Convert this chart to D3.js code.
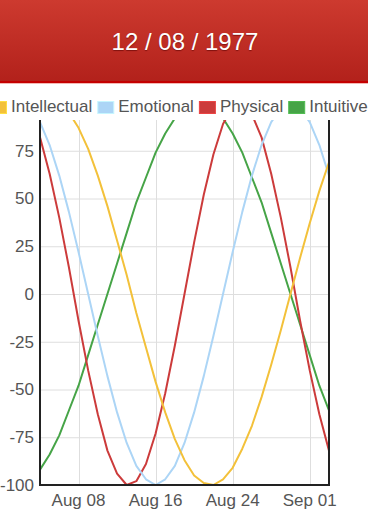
<!DOCTYPE html>
<html>
<head>
<meta charset="utf-8">
<script src="https://cdn.jsdelivr.net/npm/d3@7"></script>
<style>
  html, body { margin: 0; padding: 0; background: #fff; }
  svg { display: block; font-family: "Liberation Sans", Arial, sans-serif; }
</style>
</head>
<body>
<div id="chart"></div>
<script>
// biorhythm chart, one point per day from Aug 04 to Sep 03
const title = "12 / 08 / 1977";
const days = d3.range(0, 31); // day index, 0 = Aug 04
const tickDays = [4, 12, 20, 28];
const tickLabels = ["Aug 08", "Aug 16", "Aug 24", "Sep 01"];
const yTicks = [-100, -75, -50, -25, 0, 25, 50, 75];

const seriesNames = ["Intellectual", "Emotional", "Physical", "Intuitive"];
const seriesColors = ["#f3c13a", "#acd5f6", "#cc3b3b", "#46a447"];

const intellectual = [97, 100, 99, 95, 87, 76, 62, 46, 28, 10, -10, -28, -46, -62, -76, -87,
  -95, -99, -100, -97, -91, -81, -69, -54, -37, -19, 0, 19, 37, 54, 69];
const emotional = [90, 78, 62, 43, 22, 0, -22, -43, -62, -78, -90, -97, -100, -97, -90, -78,
  -62, -43, -22, 0, 22, 43, 62, 78, 90, 97, 100, 97, 90, 78, 62];
const physical = [82, 63, 40, 14, -14, -40, -63, -82, -94, -100, -98, -89, -73, -52, -27, 0,
  27, 52, 73, 89, 98, 100, 94, 82, 63, 40, 14, -14, -40, -63, -82];
const intuitive = [-92, -84, -74, -61, -48, -32, -16, 0, 16, 32, 48, 61, 74, 84, 92, 97,
  100, 100, 97, 92, 84, 74, 61, 48, 32, 16, 0, -16, -32, -48, -61];

const seriesValues = [intellectual, emotional, physical, intuitive];

class BioChart {

    constructor(parentElement) {
        this.parentElement = parentElement;
        this.initVis();
    }

    initVis() {
        let vis = this;

        vis.width = 368;
        vis.height = 512;
        vis.plot = {left: 40, right: 329, top: 120, bottom: 485};

        vis.svg = d3.select("#" + vis.parentElement).append("svg")
            .attr("width", vis.width)
            .attr("height", vis.height);

        // header band
        let defs = vis.svg.append("defs");
        let grad = defs.append("linearGradient")
            .attr("id", "headGrad")
            .attr("x1", 0).attr("y1", 0).attr("x2", 0).attr("y2", 1);
        grad.append("stop").attr("offset", "0%").attr("stop-color", "#cd3a2f");
        grad.append("stop").attr("offset", "100%").attr("stop-color", "#b2211b");

        vis.svg.append("rect")
            .attr("x", 0).attr("y", 0)
            .attr("width", vis.width).attr("height", 82)
            .attr("fill", "url(#headGrad)");
        vis.svg.append("rect")
            .attr("x", 0).attr("y", 81)
            .attr("width", vis.width).attr("height", 2)
            .attr("fill", "#c40000");
        vis.svg.append("rect")
            .attr("x", 0).attr("y", 83)
            .attr("width", vis.width).attr("height", 1)
            .attr("fill", "#f4b8b4");

        vis.svg.append("text")
            .attr("x", vis.width / 2 + 1)
            .attr("y", 50)
            .attr("text-anchor", "middle")
            .attr("fill", "#fff")
            .style("font-size", "24px")
            .style("text-shadow", "0 1px 1px rgba(90,0,0,0.6)")
            .text(title);

        defs.append("clipPath").attr("id", "plotClip")
            .append("rect")
            .attr("x", vis.plot.left)
            .attr("y", vis.plot.top)
            .attr("width", vis.plot.right - vis.plot.left)
            .attr("height", vis.plot.bottom - vis.plot.top + 2);

        // scales
        vis.x = d3.scaleLinear()
            .domain([0, 30])
            .range([vis.plot.left, vis.plot.right]);
        vis.y = d3.scaleLinear()
            .domain([-100, 100])
            .range([vis.plot.bottom, 103]);

        vis.drawGrid();
        vis.drawLines();
        vis.drawAxes();
        vis.drawLegend();
    }

    drawGrid() {
        let vis = this;
        let grid = vis.svg.append("g").attr("class", "grid");

        grid.selectAll(".hgrid")
            .data(yTicks)
            .enter().append("line")
            .attr("x1", vis.plot.left)
            .attr("x2", vis.plot.right)
            .attr("y1", d => vis.y(d) + 0.5)
            .attr("y2", d => vis.y(d) + 0.5)
            .attr("stroke", "#dedede")
            .attr("stroke-width", 1);

        grid.selectAll(".vgrid")
            .data(tickDays)
            .enter().append("line")
            .attr("x1", d => Math.round(vis.x(d)) + 0.5)
            .attr("x2", d => Math.round(vis.x(d)) + 0.5)
            .attr("y1", vis.plot.top)
            .attr("y2", vis.plot.bottom)
            .attr("stroke", "#dedede")
            .attr("stroke-width", 1);
    }

    drawLines() {
        let vis = this;

        let line = d3.line()
            .x((d, i) => vis.x(days[i]))
            .y(d => vis.y(d));

        // first series ends up on top
        let order = [3, 2, 1, 0];
        vis.svg.append("g")
            .attr("clip-path", "url(#plotClip)")
            .selectAll("path")
            .data(order)
            .enter().append("path")
            .attr("d", i => line(seriesValues[i]))
            .attr("fill", "none")
            .attr("stroke", i => seriesColors[i])
            .attr("stroke-width", 2)
            .attr("stroke-linejoin", "round");
    }

    drawAxes() {
        let vis = this;
        let axes = vis.svg.append("g");

        axes.selectAll(".ylab")
            .data(yTicks)
            .enter().append("text")
            .attr("x", 34)
            .attr("y", d => vis.y(d))
            .attr("dy", "0.35em")
            .attr("text-anchor", "end")
            .attr("fill", "#555")
            .style("font-size", "17px")
            .text(d => d);

        axes.selectAll(".xlab")
            .data(tickDays)
            .enter().append("text")
            .attr("x", d => vis.x(d))
            .attr("y", 506)
            .attr("text-anchor", "middle")
            .attr("fill", "#555")
            .style("font-size", "17px")
            .text((d, i) => tickLabels[i]);

        // frame: left, right, bottom
        let frame = [
            [vis.plot.left, vis.plot.top, vis.plot.left, vis.plot.bottom + 1],
            [vis.plot.right, vis.plot.top, vis.plot.right, vis.plot.bottom + 1],
            [vis.plot.left - 1, vis.plot.bottom, vis.plot.right + 1, vis.plot.bottom]
        ];
        axes.selectAll(".frame")
            .data(frame)
            .enter().append("line")
            .attr("x1", d => d[0]).attr("y1", d => d[1])
            .attr("x2", d => d[2]).attr("y2", d => d[3])
            .attr("stroke", "#222")
            .attr("stroke-width", 2);
    }

    drawLegend() {
        let vis = this;
        let boxW = 17, boxH = 13, gap = 4, itemGap = 5;

        let legend = vis.svg.append("g").attr("class", "legend");
        let items = legend.selectAll("g")
            .data(seriesNames)
            .enter().append("g");

        items.append("rect")
            .attr("width", boxW - 1)
            .attr("height", boxH - 1)
            .attr("x", 0.5)
            .attr("y", 101.5)
            .attr("fill", (d, i) => seriesColors[i])
            .attr("stroke", (d, i) => d3.color(seriesColors[i]).brighter(0.4))
            .attr("stroke-width", 1);

        items.append("text")
            .attr("x", boxW + gap)
            .attr("y", 112)
            .attr("fill", "#555")
            .style("font-size", "17px")
            .text(d => d);

        // one row, first box starts just off the left edge like the original
        let widths = [];
        items.select("text").each(function() {
            widths.push(boxW + gap + this.getComputedTextLength());
        });
        let xPos = -10;
        items.each(function(d, i) {
            d3.select(this).attr("transform", "translate(" + xPos + ",0)");
            xPos += widths[i] + itemGap;
        });
    }
}

new BioChart("chart");
</script>
</body>
</html>
